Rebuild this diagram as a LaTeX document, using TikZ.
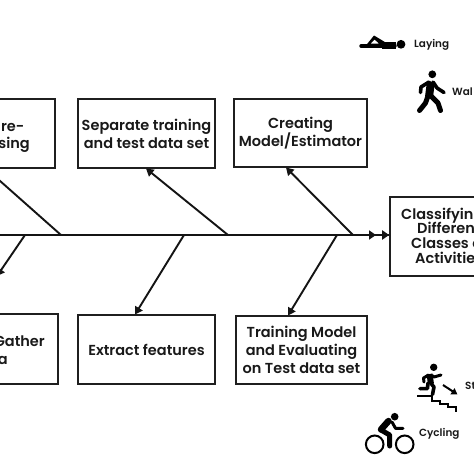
\documentclass[tikz,border=0pt]{standalone}
\usepackage{fontspec}
\setmainfont{Poppins}[BoldFont=Poppins SemiBold]
\usetikzlibrary{arrows.meta}
\tikzset{
  box/.style={draw=black!88,line width=1.6pt,align=center,inner sep=0pt,font=\fontsize{14.5}{18}\selectfont\bfseries,text=black!90},
  frag/.style={inner sep=0pt,font=\fontsize{14.5}{18}\selectfont\bfseries,text=black!90},
  spine/.style={line width=2pt,draw=black!92},
  bone/.style={line width=1.9pt,draw=black!92,-{Triangle[length=7.5pt,width=8.5pt]}},
  ink/.style={fill=black,draw=none},
  limb/.style={draw=black,line cap=round,line join=round},
  lab/.style={font=\fontsize{10.4}{12}\selectfont\bfseries,inner sep=0pt,anchor=west,text=black!90}
}
\begin{document}
\begin{tikzpicture}[x=1pt,y=-1pt]
\path[use as bounding box,fill=white] (0,0) rectangle (474,474);
\clip (0,0) rectangle (474,474);
% boxes
\node[box,minimum width=150pt,minimum height=69pt] (pre) at (-20,133.5) {};
\node[frag,anchor=base east] (pre1) at (24.5,131) {re-};
\node[frag,anchor=base east] (pre2) at (30,148) {sing};
\node[box,minimum width=137pt,minimum height=69pt] (sep) at (146.5,133.5) {Separate training\\and test data set};
\node[box,minimum width=133pt,minimum height=68pt] (est) at (300.5,133) {Creating\\Model/Estimator};
\node[box,minimum width=150pt,minimum height=70pt] (gat) at (-17,349) {};
\node[frag,anchor=base east] (gat1) at (45,346) {Gather};
\node[frag,anchor=base east] (gat2) at (8,364) {a};
\node[box,minimum width=137pt,minimum height=69pt] (ext) at (146.5,349.5) {Extract features};
\node[box,minimum width=131pt,minimum height=68pt] (trn) at (301.5,350) {Training Model\\and Evaluating\\on Test data set};
\node[box,minimum width=106pt,minimum height=79pt] (res) at (443,236.5) {};
\node[frag,anchor=base west] (res1) at (401,219) {Classifyin};
\node[frag,anchor=base west] (res2) at (417,233.5) {Differen};
\node[frag,anchor=base west] (res3) at (411,248.5) {Classes o};
\node[frag,anchor=base west] (res4) at (415,263.5) {Activitie};
% spine
\coordinate (tail) at (-5,235);
\coordinate (mid) at (376,235);
\draw[spine] (tail) -- (res.west |- tail);
\draw[spine,-{Triangle[length=7pt,width=9pt]}] (mid) -- (res.west |- mid);
\draw[spine,-{Triangle[length=7pt,width=9pt]}] (tail) -- (mid);
% bones
\coordinate (t1) at (61,235);
\coordinate (t2) at (228,235);
\coordinate (t3) at (353,235);
\coordinate (b1) at (25,235);
\coordinate (b2) at (184,235);
\coordinate (b3) at (337,235);
\coordinate (t2e) at (146,168.5);
\coordinate (t3e) at (286,167.5);
\coordinate (t1e) at (-14,168.5);
\coordinate (b1e) at (-3,276);
\coordinate (b2e) at (135,314.5);
\coordinate (b3e) at (288,315.5);
\draw[bone] (t1) -- (t1e);
\draw[bone] (t2) -- (t2e);
\draw[bone] (t3) -- (t3e);
\draw[bone] (b1) -- (b1e);
\draw[bone] (b2) -- (b2e);
\draw[bone] (b3) -- (b3e);
% laying
\fill[ink] (401,44.3) circle (4.4);
\draw[limb,line width=3.4pt] (361,46) -- (395,46);
\fill[ink,even odd rule] (365.5,46) -- (374,35.5) -- (384,41.5) -- (390,46) -- cycle (370.5,43.5) -- (374.5,39.5) -- (379,43.5) -- cycle;
\draw[limb,line width=7pt,line cap=butt] (382,45) -- (396,45);
\node[lab] (lay) at (414,44.5) {Laying};
% walking
\fill[ink] (432.3,74.3) circle (3.9);
\draw[limb,line width=8pt,line cap=butt] (431,81.5) -- (429,97);
\draw[limb,line width=3.6pt] (429,82) -- (421,87) -- (420.5,92.5);
\draw[limb,line width=3.6pt] (433,82) -- (437,88) -- (444,92.5);
\draw[limb,line width=5pt] (428,96) -- (425.5,103) -- (419.5,110.5);
\draw[limb,line width=5pt] (431,96) -- (438,103) -- (440.5,110.5);
\node[lab] (wal) at (452,92) {Wal};
% stairs
\fill[ink] (433.7,367.3) circle (3.7);
\draw[limb,line width=6pt,line cap=butt] (429.5,374) -- (431,384);
\draw[limb,line width=3pt] (432,375.5) -- (434,377) -- (441,375);
\draw[limb,line width=3pt] (428.5,375) -- (423.5,378) -- (424,382);
\draw[limb,line width=3.6pt] (431,383.5) -- (434,387) -- (432.5,394.5);
\draw[limb,line width=3.6pt] (428,383) -- (427.5,388.5) -- (420,388.7);
\draw[draw=black,line width=2pt] (417.3,395.7) -- (432,395.7) -- (432,400.7) -- (439.7,400.7) -- (439.7,404) -- (447.7,404) -- (447.7,406.7) -- (456,406.7) -- (456,411.7);
\coordinate (sa) at (443,385);
\coordinate (sb) at (457.5,394.5);
\draw[line width=2pt,-{Triangle[length=6pt,width=7pt]}] (sa) -- (sb);
\node[lab] (sta) at (465,385.5) {St};
% cycling
\fill[ink] (394.7,416.7) circle (3.8);
\draw[line width=2pt] (374.7,444.3) circle (8.8);
\draw[line width=2pt] (404.7,444.3) circle (8.8);
\draw[limb,line width=6.5pt] (388.5,421) -- (381,429.5);
\draw[limb,line width=5pt] (381,430) -- (389.7,435) -- (389.7,446);
\draw[limb,line width=3pt] (392,422) -- (395.5,428.3) -- (403,428.3);
\node[lab] (cyc) at (419,433.5) {Cycling};
\end{tikzpicture}
\end{document}
